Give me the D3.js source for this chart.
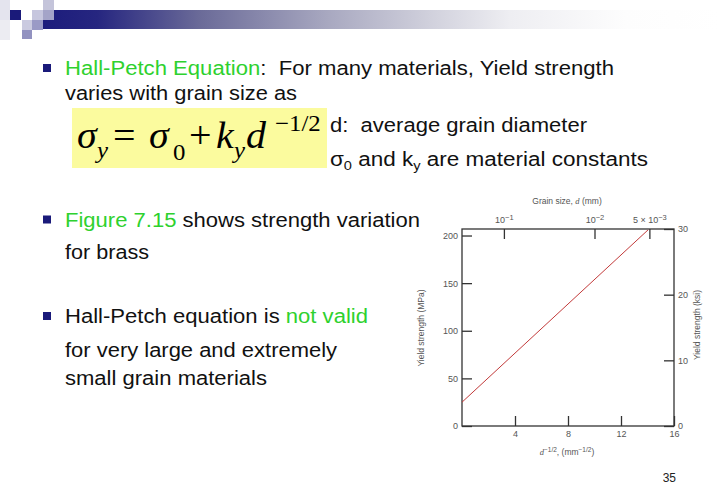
<!DOCTYPE html>
<html><head><meta charset="utf-8">
<script src="https://cdn.jsdelivr.net/npm/d3@7"></script>
<style>
html,body{margin:0;padding:0;background:#fff;}
svg{display:block;}
text{white-space:pre;}
</style></head>
<body>
<svg id="slide" width="720" height="498"></svg>
<script>
// ---- chart data ----
const mpaTicks = [0, 50, 100, 150, 200];
const ksiTicks = [0, 10, 20, 30];
const invSqrtTicks = [4, 8, 12, 16];
const grainTicks = [0.1, 0.01, 0.005];
const grainLabels = [["10", "−1"], ["10", "−2"], ["5 × 10", "−3"]];
const lineInvSqrtD = [0, 14.05];
const lineYieldMPa = [25, 206];

const svg = d3.select("#slide");
svg.append("rect").attr("width", 720).attr("height", 498).attr("fill", "#fff");

// ---- header decoration ----
const defs = svg.append("defs");
const grad = defs.append("linearGradient").attr("id", "hdr").attr("x1", 0).attr("x2", 1).attr("y1", 0).attr("y2", 0);
[[0, "#1c1c7c"], [0.08, "#262680"], [0.23, "#6a6a98"], [0.42, "#a8a8c0"], [0.57, "#d0d0dc"], [0.69, "#eeeef2"], [0.86, "#fdfdfd"], [1, "#ffffff"]]
  .forEach(([o, c]) => grad.append("stop").attr("offset", o).attr("stop-color", c));
svg.append("rect").attr("x", 43).attr("y", 10).attr("width", 677).attr("height", 19).attr("fill", "url(#hdr)");
const squares = [
  [0, 0, 10, 30, "#e4e4ee"], [0, 20, 10, 20, "#ececf2"],
  [10, 10, 11, 10, "#1a1a7a"],
  [32, 10, 11, 10, "#c6c6de"], [43, 0, 11, 10, "#c4c4da"], [43, 10, 11, 10, "#a4a4c8"],
  [22, 20, 10, 10, "#cacae0"], [32, 20, 11, 10, "#9a9ac6"], [22, 30, 10, 9, "#9292c0"]
];
svg.selectAll("rect.sq").data(squares).join("rect").attr("class", "sq")
  .attr("x", d => d[0]).attr("y", d => d[1]).attr("width", d => d[2]).attr("height", d => d[3]).attr("fill", d => d[4]);

// ---- text ----
const GREEN = "#2ed12e", BLACK = "#111";
const lines = [
  { x: 65, y: 75, w: 549, parts: [["Hall-Petch Equation", GREEN], [":  For many materials, Yield strength", BLACK]] },
  { x: 65, y: 100, w: 232, parts: [["varies with grain size as", BLACK]] },
  { x: 330, y: 132, w: 257, parts: [["d:  average grain diameter", BLACK]] },
  { x: 65, y: 226.5, w: 355, parts: [["Figure 7.15", GREEN], [" shows strength variation", BLACK]] },
  { x: 65, y: 259, w: 84, parts: [["for brass", BLACK]] },
  { x: 65, y: 323, w: 303, parts: [["Hall-Petch equation is ", BLACK], ["not valid", GREEN]] },
  { x: 65, y: 356.5, w: 272, parts: [["for very large and extremely", BLACK]] },
  { x: 65, y: 385, w: 202, parts: [["small grain materials", BLACK]] }
];
lines.forEach(l => {
  const t = svg.append("text").attr("x", l.x).attr("y", l.y)
    .attr("font-family", "Liberation Sans, Arial, sans-serif").attr("font-size", 20)
    .attr("textLength", l.w).attr("lengthAdjust", "spacingAndGlyphs");
  l.parts.forEach(p => t.append("tspan").attr("fill", p[1]).text(p[0]));
});
// sigma0 and ky line
{
  const t = svg.append("text").attr("x", 330).attr("y", 166)
    .attr("font-family", "Liberation Sans, Arial, sans-serif").attr("font-size", 20).attr("fill", BLACK)
    .attr("textLength", 318).attr("lengthAdjust", "spacingAndGlyphs");
  t.append("tspan").text("σ");
  t.append("tspan").attr("font-size", 13).attr("dy", 4).text("0");
  t.append("tspan").attr("dy", -4).text(" and k");
  t.append("tspan").attr("font-size", 13).attr("dy", 4).text("y");
  t.append("tspan").attr("dy", -4).text(" are material constants");
}
// bullets
[75, 226.5, 323].forEach(b => svg.append("rect").attr("x", 43).attr("y", b - 11).attr("width", 8).attr("height", 8).attr("fill", "#1a1a7a"));

// equation box
svg.append("rect").attr("x", 72).attr("y", 108).attr("width", 255).attr("height", 60).attr("fill", "#fbfb9e");
const eq = svg.append("g").attr("font-family", "Liberation Serif, Times New Roman, serif").attr("fill", "#000");
const eqParts = [
  ["σ", 77, 148, 37, "italic"], ["y", 97, 158, 23, "italic"], ["=", 113, 148, 37, "normal"],
  ["σ", 149, 148, 37, "italic"], ["0", 173, 160, 23, "normal"], ["+", 189, 148, 37, "normal"],
  ["k", 216, 148, 37, "italic"], ["y", 234, 158, 23, "italic"], ["d", 246, 148, 37, "italic"],
  ["−1/2", 275, 131, 23, "normal"]
];
eqParts.forEach(p => eq.append("text").attr("transform", `translate(${p[1]},${p[2]}) scale(1.08,1)`)
  .attr("font-size", p[3]).attr("font-style", p[4]).text(p[0]));

// page number
svg.append("text").attr("x", 676).attr("y", 482).attr("text-anchor", "end")
  .attr("font-family", "Liberation Sans, Arial, sans-serif").attr("font-size", 12).attr("fill", "#222").text("35");

// ---- chart ----
const x = d3.scaleLinear().domain([0, 16]).range([462, 674]);
const yKsi = d3.scaleLinear().domain([0, 30]).range([426, 229]);
const yMPa = d3.scaleLinear().domain([0, 30 * 6.894757]).range([426, 229]);
const topScale = d3.scalePow().exponent(-0.5).domain([1, 1 / 256]).range([x(1), x(16)]);

const chart = svg.append("g").attr("font-family", "Liberation Sans, Arial, sans-serif");
const AX = "#333", TX = "#555", FS = 9;

function styleAxis(g) {
  g.select(".domain").remove();
  g.selectAll(".tick line").attr("stroke", AX).attr("stroke-width", 1.3);
  g.selectAll(".tick text").attr("fill", TX).attr("font-size", FS).attr("font-family", "Liberation Sans, Arial, sans-serif");
}
chart.append("g").attr("transform", `translate(${x(0)},0)`)
  .call(d3.axisLeft(yMPa).tickValues(mpaTicks).tickSizeInner(-10).tickSizeOuter(0).tickPadding(4)).call(styleAxis);
chart.append("g").attr("transform", `translate(${x(16)},0)`)
  .call(d3.axisRight(yKsi).tickValues(ksiTicks).tickSizeInner(-10).tickSizeOuter(0).tickPadding(4)).call(styleAxis);
chart.append("g").attr("transform", `translate(0,${yKsi(0)})`)
  .call(d3.axisBottom(x).tickValues(invSqrtTicks).tickSizeInner(-10).tickSizeOuter(0).tickPadding(5)).call(styleAxis);
const topAx = chart.append("g").attr("transform", `translate(0,${yKsi(30)})`)
  .call(d3.axisTop(topScale).tickValues(grainTicks).tickSizeInner(-10).tickSizeOuter(0).tickPadding(6)).call(styleAxis);
topAx.selectAll(".tick text").each(function (d, i) {
  const t = d3.select(this).text(null);
  t.append("tspan").text(grainLabels[i][0]);
  t.append("tspan").attr("font-size", 7.5).attr("dy", -3.5).text(grainLabels[i][1]);
});

// frame
chart.append("rect").attr("x", x(0)).attr("y", yKsi(30)).attr("width", x(16) - x(0)).attr("height", yKsi(0) - yKsi(30))
  .attr("fill", "none").attr("stroke", AX).attr("stroke-width", 1.3);

// data line
const pts = lineInvSqrtD.map((v, i) => [v, lineYieldMPa[i]]);
chart.append("path").datum(pts)
  .attr("d", d3.line().x(d => x(d[0])).y(d => yMPa(d[1])))
  .attr("fill", "none").attr("stroke", "#c23a3a").attr("stroke-width", 1);

// axis titles
chart.append("text").attr("x", (x(0) + x(16)) / 2 - 1).attr("y", 204).attr("text-anchor", "middle")
  .attr("font-size", 8.5).attr("fill", TX)
  .call(t => { t.append("tspan").text("Grain size, "); t.append("tspan").attr("font-style", "italic").attr("font-family", "Liberation Serif, serif").text("d"); t.append("tspan").text(" (mm)"); });
chart.append("text").attr("x", (x(0) + x(16)) / 2 - 1).attr("y", 455).attr("text-anchor", "middle")
  .attr("font-size", 8.5).attr("fill", TX)
  .call(t => {
    t.append("tspan").attr("font-style", "italic").attr("font-family", "Liberation Serif, serif").text("d");
    t.append("tspan").attr("font-size", 6.5).attr("dy", -3.5).text("−1/2");
    t.append("tspan").attr("dy", 3.5).text(", (mm");
    t.append("tspan").attr("font-size", 6.5).attr("dy", -3.5).text("−1/2");
    t.append("tspan").attr("dy", 3.5).text(")");
  });
chart.append("text").attr("transform", `translate(424,328) rotate(-90)`).attr("text-anchor", "middle")
  .attr("font-size", 8.5).attr("fill", TX).text("Yield strength (MPa)");
chart.append("text").attr("transform", `translate(700,325) rotate(-90)`).attr("text-anchor", "middle")
  .attr("font-size", 8.5).attr("fill", TX).text("Yield strength (ksi)");
</script>
</body></html>
